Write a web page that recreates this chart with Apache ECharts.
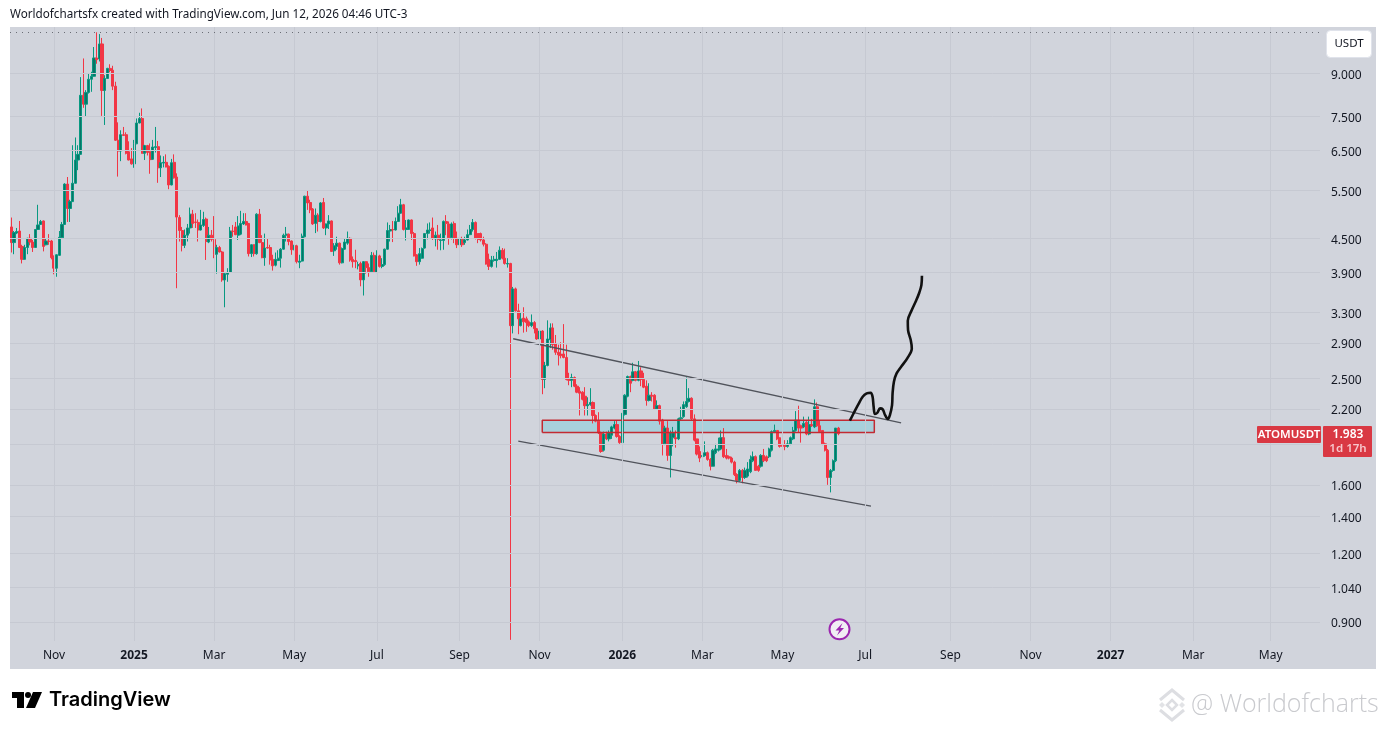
<!DOCTYPE html>
<html><head><meta charset="utf-8">
<style>html,body{margin:0;padding:0;background:#fff}#c{width:1386px;height:730px}</style>
<script src="https://cdn.jsdelivr.net/npm/echarts@6/dist/echarts.min.js"></script>
</head><body><div id="c"></div>
<script>
const firstBarDate = '2024-10-01';
const barStepDays = 2;
const totalBars = 491;

const opens = [4.72,4.42,4.60,4.64,4.35,4.12,4.33,4.50,4.43,4.33,
4.67,4.77,4.84,4.38,4.45,4.45,4.15,3.97,4.19,4.51,
4.77,5.65,5.10,5.25,5.67,6.25,6.40,8.20,7.90,8.30,
8.77,8.88,9.59,9.55,10.17,8.37,8.80,9.18,9.11,8.52,
6.79,6.49,6.95,6.95,6.47,6.28,6.15,6.69,7.30,7.44,
6.43,6.64,6.47,6.27,6.59,6.61,6.05,6.17,6.19,6.09,
5.63,6.19,5.82,4.91,4.65,4.37,4.56,4.70,4.98,4.82,
4.81,4.66,4.75,4.88,4.43,4.56,4.48,4.21,4.33,4.25,
3.78,3.87,3.90,4.64,4.72,4.56,4.58,4.78,4.83,4.79,
4.22,4.38,4.22,4.98,4.42,4.15,4.33,4.33,4.12,4.02,
4.10,4.14,4.30,4.56,4.58,4.45,4.29,4.36,4.07,4.09,
4.53,5.37,5.23,5.09,4.79,4.96,4.83,5.23,4.70,4.78,
4.84,4.27,4.35,4.41,4.06,4.30,4.41,4.50,4.12,4.10,
4.01,4.05,3.78,4.08,3.98,3.91,4.19,3.90,4.18,4.00,
4.03,4.30,4.64,4.67,4.66,4.83,5.00,5.18,4.67,4.67,
4.86,4.59,4.20,4.08,4.14,4.32,4.59,4.65,4.70,4.49,
4.56,4.46,4.46,4.83,4.78,4.51,4.79,4.50,4.38,4.48,
4.42,4.47,4.57,4.67,4.81,4.59,4.59,4.47,4.39,4.12,
4.00,4.10,4.10,4.12,4.28,4.14,4.04,4.05,3.12,3.64,
3.32,3.12,3.22,3.21,3.17,3.12,3.16,3.08,2.95,3.05,
2.49,2.64,2.94,3.09,2.89,2.79,2.77,2.77,2.73,2.50,
2.48,2.51,2.42,2.37,2.36,2.32,2.23,2.24,2.26,2.14,
2.09,1.99,1.85,1.98,1.94,1.97,2.03,2.06,1.96,1.91,
2.15,2.32,2.52,2.48,2.57,2.48,2.58,2.49,2.42,2.28,
2.33,2.33,2.20,2.23,2.10,1.90,2.03,1.81,1.95,1.95,
1.94,2.11,2.13,2.22,2.27,2.30,2.11,1.94,1.84,1.80,
1.81,1.83,1.78,1.73,1.83,1.85,1.86,1.95,1.81,1.80,
1.79,1.76,1.67,1.63,1.70,1.65,1.66,1.69,1.77,1.80,
1.73,1.73,1.81,1.80,1.80,1.85,2.00,2.01,1.95,1.89,
1.89,1.88,1.90,1.94,2.01,2.10,2.05,2.04,2.08,1.98,
2.06,2.04,2.22,2.05,2.01,1.90,1.85,1.65,1.70,1.77,2.03];

const closes = [4.42,4.61,4.63,4.33,4.12,4.33,4.50,4.43,4.33,4.67,
4.76,4.83,4.35,4.45,4.44,4.15,3.97,4.20,4.52,4.77,
5.65,5.10,5.25,5.67,6.25,6.40,8.20,7.90,8.30,8.77,
8.88,9.59,9.52,10.17,8.37,8.80,9.18,9.10,8.52,6.79,
6.49,6.95,6.93,6.43,6.25,6.15,6.69,7.30,7.44,6.43,
6.64,6.45,6.26,6.60,6.61,6.05,6.18,6.19,6.07,5.63,
6.18,5.80,4.92,4.65,4.37,4.56,4.70,4.98,4.79,4.81,
4.66,4.76,4.87,4.44,4.56,4.48,4.21,4.33,4.25,3.78,
3.88,3.90,4.64,4.63,4.57,4.74,4.79,4.83,4.76,4.22,
4.38,4.22,4.98,4.42,4.15,4.32,4.32,4.11,4.01,4.12,
4.14,4.30,4.56,4.58,4.44,4.29,4.36,4.08,4.09,4.54,
5.37,5.22,5.07,4.78,4.96,4.83,5.22,4.70,4.78,4.84,
4.26,4.36,4.41,4.06,4.31,4.43,4.50,4.11,4.08,4.08,
4.03,3.78,4.08,3.98,3.91,4.19,3.91,4.18,4.00,4.03,
4.30,4.65,4.67,4.66,4.83,5.00,5.18,4.67,4.70,4.86,
4.59,4.18,4.08,4.22,4.31,4.59,4.66,4.66,4.50,4.56,
4.48,4.47,4.83,4.79,4.51,4.78,4.50,4.38,4.50,4.38,
4.47,4.57,4.67,4.81,4.50,4.48,4.47,4.39,4.04,4.00,
4.11,4.12,4.12,4.28,4.14,4.05,4.05,3.12,3.64,3.32,
3.21,3.21,3.17,3.16,3.12,3.16,3.08,2.95,3.05,2.49,
2.64,2.95,3.09,2.88,2.79,2.76,2.75,2.73,2.49,2.48,
2.51,2.42,2.36,2.35,2.29,2.23,2.24,2.26,2.14,2.09,
1.99,1.84,1.98,1.94,1.99,2.04,2.06,1.96,1.91,2.16,
2.33,2.52,2.45,2.57,2.48,2.58,2.49,2.41,2.28,2.33,
2.32,2.20,2.23,2.09,1.90,2.03,1.81,1.99,1.99,1.94,
2.11,2.12,2.24,2.27,2.30,2.11,1.93,1.82,1.79,1.81,
1.83,1.78,1.73,1.85,1.86,1.86,1.95,1.80,1.79,1.79,
1.76,1.67,1.63,1.70,1.65,1.70,1.71,1.78,1.80,1.70,
1.70,1.81,1.77,1.77,1.86,2.00,2.01,1.94,1.88,1.88,
1.88,1.90,1.95,2.01,2.10,2.03,2.03,2.07,1.98,2.06,
2.05,2.22,2.05,2.00,1.90,1.85,1.65,1.70,1.77,2.03,1.983];

const lows = [4.24,4.21,4.58,4.32,4.05,4.12,4.21,4.37,4.25,4.33,
4.66,4.76,4.26,4.37,4.38,4.12,3.87,3.83,4.18,4.49,
4.76,4.82,4.82,5.24,5.66,5.99,6.39,7.78,7.49,8.26,
8.32,8.87,9.36,9.45,7.52,7.24,8.78,9.03,8.38,6.77,
5.83,6.22,6.92,6.40,6.24,6.13,6.05,6.68,7.29,6.42,
6.25,6.37,5.90,6.25,6.45,5.68,5.82,6.06,6.06,5.53,
5.62,5.78,3.65,4.44,4.26,4.32,4.44,4.59,4.70,4.70,
4.44,4.65,4.72,4.11,4.41,4.44,4.14,3.88,4.24,3.75,
3.37,3.75,3.89,4.53,4.56,4.47,4.56,4.76,4.75,4.17,
4.16,4.17,4.20,4.41,4.14,4.01,4.31,4.03,3.93,4.00,
4.09,3.98,4.29,4.44,4.37,4.20,4.28,4.05,3.97,4.08,
4.52,5.07,5.00,4.76,4.60,4.63,4.81,4.68,4.56,4.68,
4.25,4.18,4.29,4.03,4.05,4.29,4.38,4.08,3.98,3.97,
3.95,3.68,3.54,3.88,3.83,3.90,3.90,3.89,3.98,3.97,
4.01,4.29,4.44,4.43,4.65,4.82,4.99,4.65,4.46,4.66,
4.47,4.17,4.01,4.03,4.13,4.31,4.48,4.59,4.47,4.35,
4.29,4.28,4.29,4.56,4.38,4.48,4.41,4.32,4.35,4.34,
4.38,4.46,4.56,4.63,4.48,4.41,4.44,4.35,4.03,3.94,
3.98,4.08,3.98,4.11,4.12,4.03,3.98,0.835,3.02,3.31,
3.01,3.11,3.03,3.04,3.10,3.10,3.02,2.94,2.87,2.34,
2.40,2.63,2.84,2.82,2.76,2.64,2.72,2.72,2.48,2.43,
2.41,2.41,2.35,2.14,2.28,2.14,2.14,2.23,2.07,2.08,
1.98,1.83,1.84,1.93,1.92,1.94,2.02,1.95,1.90,1.90,
2.14,2.31,2.36,2.47,2.47,2.47,2.42,2.40,2.23,2.27,
2.27,2.19,2.19,2.06,1.81,1.89,1.77,1.65,1.88,1.87,
1.93,2.10,2.12,2.21,2.26,2.10,1.92,1.81,1.76,1.77,
1.80,1.77,1.70,1.73,1.82,1.84,1.85,1.79,1.78,1.78,
1.75,1.66,1.61,1.62,1.61,1.64,1.65,1.68,1.76,1.70,
1.69,1.72,1.76,1.76,1.79,1.84,1.99,1.93,1.87,1.87,
1.85,1.87,1.89,1.93,2.00,1.99,1.91,2.03,1.97,1.97,
2.04,2.03,2.04,2.00,1.89,1.84,1.60,1.55,1.69,1.76,1.97];

const highs = [4.91,4.64,4.70,4.84,4.38,4.38,4.51,4.58,4.47,4.68,
5.18,4.86,4.85,4.50,4.58,4.47,4.19,4.21,4.64,4.82,
5.67,5.82,5.29,6.65,6.87,6.65,8.85,9.57,8.38,8.99,
9.05,10.04,10.68,10.60,10.43,8.92,9.20,9.34,9.28,8.68,
7.32,7.08,7.18,7.02,6.76,6.57,6.80,7.44,7.62,7.76,
6.66,6.66,6.70,6.80,7.18,6.77,6.37,6.35,6.40,6.11,
6.28,6.40,5.91,4.96,4.72,4.67,4.78,5.12,5.07,5.00,
4.87,5.07,5.03,4.91,4.72,4.66,4.94,4.38,4.36,4.27,
3.89,3.97,4.72,4.76,4.82,4.94,5.05,5.00,5.00,4.80,
4.39,4.39,5.00,5.09,4.56,4.59,4.50,4.38,4.20,4.24,
4.28,4.32,4.59,4.72,4.59,4.46,4.38,4.38,4.20,4.59,
5.38,5.49,5.29,5.11,5.10,5.00,5.24,5.33,4.79,4.96,
4.85,4.41,4.53,4.42,4.33,4.50,4.63,4.52,4.17,4.29,
4.08,4.08,4.09,4.09,4.05,4.25,4.24,4.28,4.20,4.14,
4.31,4.81,4.76,4.84,4.91,5.15,5.31,5.20,4.86,4.87,
4.87,4.62,4.21,4.32,4.33,4.60,4.79,4.81,4.91,4.63,
4.76,4.59,4.85,4.96,4.83,4.81,4.83,4.63,4.74,4.53,
4.53,4.67,4.76,4.88,4.83,4.60,4.61,4.53,4.41,4.22,
4.18,4.18,4.25,4.35,4.32,4.31,4.14,4.06,3.67,3.66,
3.42,3.30,3.37,3.24,3.19,3.27,3.18,3.09,3.06,3.06,
2.68,3.19,3.15,3.15,3.00,2.88,2.91,3.14,2.88,2.56,
2.55,2.52,2.44,2.41,2.37,2.41,2.31,2.40,2.27,2.15,
2.17,2.00,2.00,2.00,2.01,2.05,2.09,2.10,1.97,2.17,
2.34,2.53,2.53,2.67,2.58,2.69,2.62,2.56,2.48,2.45,
2.36,2.34,2.28,2.24,2.11,2.05,2.09,2.01,2.04,2.01,
2.12,2.22,2.27,2.51,2.40,2.31,2.15,1.94,1.88,1.88,
1.92,1.84,1.79,1.86,1.90,1.95,2.01,2.03,1.86,1.81,
1.80,1.77,1.68,1.71,1.71,1.72,1.76,1.81,1.84,1.81,
1.74,1.82,1.86,1.81,1.87,2.01,2.06,2.01,1.95,1.89,
1.93,1.93,1.96,2.04,2.18,2.23,2.06,2.13,2.09,2.13,
2.11,2.29,2.26,2.10,2.01,1.91,1.86,1.71,1.78,2.03,2.04];

const priceTicks = [0.9,1.04,1.2,1.4,1.6,2.2,2.5,2.9,3.3,3.9,4.5,5.5,6.5,7.5,9];
const gridOnlyPrices = [1.9];
const timeTickBars = [16,46,76,106,137,168,198,229,259,289,320,352,382,412,443,472];
const timeTickLabels = ['Nov','2025','Mar','May','Jul','Sep','Nov','2026','Mar','May','Jul','Sep','Nov','2027','Mar','May'];
const yMin = 0.831, yMax = 10.92;
const highDotPrice = 10.66;

// Drawings: [bar index, price]
const upperTrend = [[188.1,2.953],[333.5,2.075]];
const lowerTrend = [[190.0,1.922],[322.2,1.463]];
const zoneBars = [199,323.45];
const zonePrices = [1.993,2.098];
const sketch = [[314.3,2.094],[315.8,2.165],[317.5,2.245],[319.1,2.315],[320.6,2.348],[322.1,2.354],[322.8,2.315],[323.2,2.22],[323.7,2.153],[324.6,2.165],[325.6,2.205],[326.6,2.196],[327.5,2.144],[328.5,2.109],[329.3,2.144],[330.1,2.236],[330.3,2.348],[330.8,2.465],[331.8,2.553],[333.7,2.634],[335.8,2.72],[337.5,2.836],[337.1,2.937],[336.1,3.063],[336,3.184],[337.5,3.33],[339.1,3.463],[340.3,3.581],[341.1,3.698],[341.3,3.846]];

const categories = [];
{ const t0 = Date.parse(firstBarDate+'T00:00:00Z');
  for (let i=0;i<totalBars;i++) categories.push(new Date(t0+i*barStepDays*864e5).toISOString().slice(0,10)); }
const tickIndex = {}; const tickText = {};
timeTickBars.forEach((idx,k)=>{ tickIndex[idx]=timeTickLabels[k]; tickText[categories[idx]]=timeTickLabels[k]; });
const candles = opens.map((o,i)=>[o,closes[i],lows[i],highs[i]]);

const GRID='#c6c9d2', TXT='#131722', UP='#089981', DN='#f23645';
const chart = echarts.init(document.getElementById('c'),null,{renderer:'canvas',width:1386,height:730});
const rectPath = [[zoneBars[0],zonePrices[0]],[zoneBars[1],zonePrices[0]],[zoneBars[1],zonePrices[1]],[zoneBars[0],zonePrices[1]],[zoneBars[0],zonePrices[0]]];
function lineSeries(data,color,width,z,extra){return Object.assign({type:'line',xAxisIndex:1,data,showSymbol:false,symbol:'none',silent:true,animation:false,lineStyle:{color,width},z,clip:false},extra||{});}
const FONT='"Noto Sans",sans-serif';
const deco = [
 {type:'rect',z:-10,shape:{x:10,y:27,width:1366,height:642},style:{fill:'#d1d4dc'}},
 {type:'text',z:50,x:10,y:8.5,style:{text:'Worldofchartsfx created with TradingView.com, Jun 12, 2026 04:46 UTC-3',font:'11.7px '+FONT,fill:TXT}},
 {type:'rect',z:50,shape:{x:1326.5,y:30.5,width:45,height:27,r:4},style:{fill:'#fff',stroke:'#e0e3eb'}},
 {type:'text',z:51,x:1349,y:44,style:{text:'USDT',font:'11.5px '+FONT,fill:TXT,align:'center',verticalAlign:'middle'}},
 {type:'rect',z:50,shape:{x:1257,y:426,width:64,height:17,r:1},style:{fill:'#d93843'}},
 {type:'text',z:51,x:1289,y:434.5,style:{text:'ATOMUSDT',font:'600 11.5px '+FONT,fill:'#fff',align:'center',verticalAlign:'middle'}},
 {type:'rect',z:50,shape:{x:1323,y:426,width:49,height:31,r:1},style:{fill:'#d93843'}},
 {type:'text',z:51,x:1348,y:434.5,style:{text:'1.983',font:'600 12px '+FONT,fill:'#fff',align:'center',verticalAlign:'middle'}},
 {type:'text',z:51,x:1348,y:449,style:{text:'1d 17h',font:'600 11.5px '+FONT,fill:'#f7c5ca',align:'center',verticalAlign:'middle'}},
 {type:'circle',z:50,shape:{cx:839.5,cy:629.3,r:10},style:{fill:'#f1eef4',stroke:'#9c27b0',lineWidth:2}},
 {type:'polygon',z:51,shape:{points:[[842.5,623],[835.5,630.5],[839.3,630.5],[837,635.5],[844,628],[840.3,628]]},style:{fill:'#9c27b0'}},
 {type:'polygon',z:50,shape:{points:[[12,692],[24,692],[24,708],[17,708],[17,698],[12,698]]},style:{fill:'#000'}},
 {type:'circle',z:50,shape:{cx:28,cy:695,r:3},style:{fill:'#000'}},
 {type:'polygon',z:50,shape:{points:[[33,692],[42,692],[35,708],[26,708]]},style:{fill:'#000'}},
 {type:'text',z:50,x:49,y:700,style:{text:'TradingView',font:'600 20px Inter,sans-serif',fill:'#000',verticalAlign:'middle'}},
 {type:'polyline',z:50,shape:{points:[[1160,700],[1172,690],[1184,700]]},style:{fill:'none',stroke:'#dddee2',lineWidth:3}},
 {type:'polyline',z:50,shape:{points:[[1160,710],[1172,720],[1184,710]]},style:{fill:'none',stroke:'#dddee2',lineWidth:3}},
 {type:'polygon',z:50,shape:{points:[[1172,700],[1177,705],[1172,710],[1167,705]]},style:{fill:'none',stroke:'#dddee2',lineWidth:2.5}},
 {type:'polygon',z:50,shape:{points:[[1162,702],[1165,705],[1162,708],[1159,705]]},style:{fill:'#e2e3e6'}},
 {type:'polygon',z:50,shape:{points:[[1182,702],[1185,705],[1182,708],[1179,705]]},style:{fill:'#e2e3e6'}},
 {type:'text',z:50,x:1191,y:705,style:{text:'@ Worldofcharts',font:'300 25px "Open Sans",sans-serif',fill:'#c9cace',verticalAlign:'middle'}}
];
chart.setOption({
 animation:false,backgroundColor:'#fff',
 grid:{left:10,top:27,width:1310,height:614,containLabel:false},
 graphic:{elements:deco},
 xAxis:[{type:'category',data:categories,boundaryGap:true,axisLine:{show:false},axisTick:{show:false},splitLine:{show:false},
   axisLabel:{interval:(i)=>tickIndex[i]!==undefined,margin:9,fontSize:12,fontFamily:FONT,color:TXT,hideOverlap:false,
     formatter:(v)=>{const t=tickText[v]||'';return /^\d+$/.test(t)?'{b|'+t+'}':t;},rich:{b:{fontWeight:'bold',fontSize:12,fontFamily:FONT,color:TXT}}}},
  {type:'value',show:false,min:-0.5,max:totalBars-0.5}],
 yAxis:{type:'log',logBase:10,position:'right',min:yMin,max:yMax,axisLine:{show:false},axisTick:{show:false},splitLine:{show:false},
   axisLabel:{customValues:priceTicks,margin:11,fontSize:12,fontFamily:FONT,color:TXT,formatter:(v)=>'{p|'+Number(v).toFixed(3)+'}',
     rich:{p:{fontSize:12,fontFamily:FONT,color:TXT,padding:[4,0,0,0]}}}},
 series:[
  lineSeries([], GRID,1,1,{markLine:{silent:true,symbol:['none','none'],animation:false,label:{show:false},lineStyle:{color:GRID,width:1,type:'solid'},
    data:priceTicks.concat(gridOnlyPrices).map(p=>({yAxis:p})).concat(timeTickBars.map(i=>({xAxis:i})))}}),
  lineSeries([], '#555',1,1.5,{markLine:{silent:true,symbol:['none','none'],animation:false,label:{show:false},lineStyle:{color:'#6a6d75',width:1,type:[1,5]},data:[{yAxis:highDotPrice}]},
    markArea:{silent:true,animation:false,itemStyle:{color:'#a8d0db'},data:[[{xAxis:zoneBars[0],yAxis:zonePrices[0]},{xAxis:zoneBars[1],yAxis:zonePrices[1]}]]}}),
  {type:'candlestick',data:candles,barWidth:2.6,z:3,silent:true,animation:false,clip:true,
   itemStyle:{color:'#0a7467',color0:DN,borderColor:UP,borderColor0:DN,borderWidth:1}},
  lineSeries(rectPath,'#c22a32',1.5,4),
  lineSeries(upperTrend,'#50535b',1.3,4),
  lineSeries(lowerTrend,'#50535b',1.3,4),
  lineSeries(sketch,'#111',2.6,5,{smooth:0.35})
 ]
});
</script></body></html>
